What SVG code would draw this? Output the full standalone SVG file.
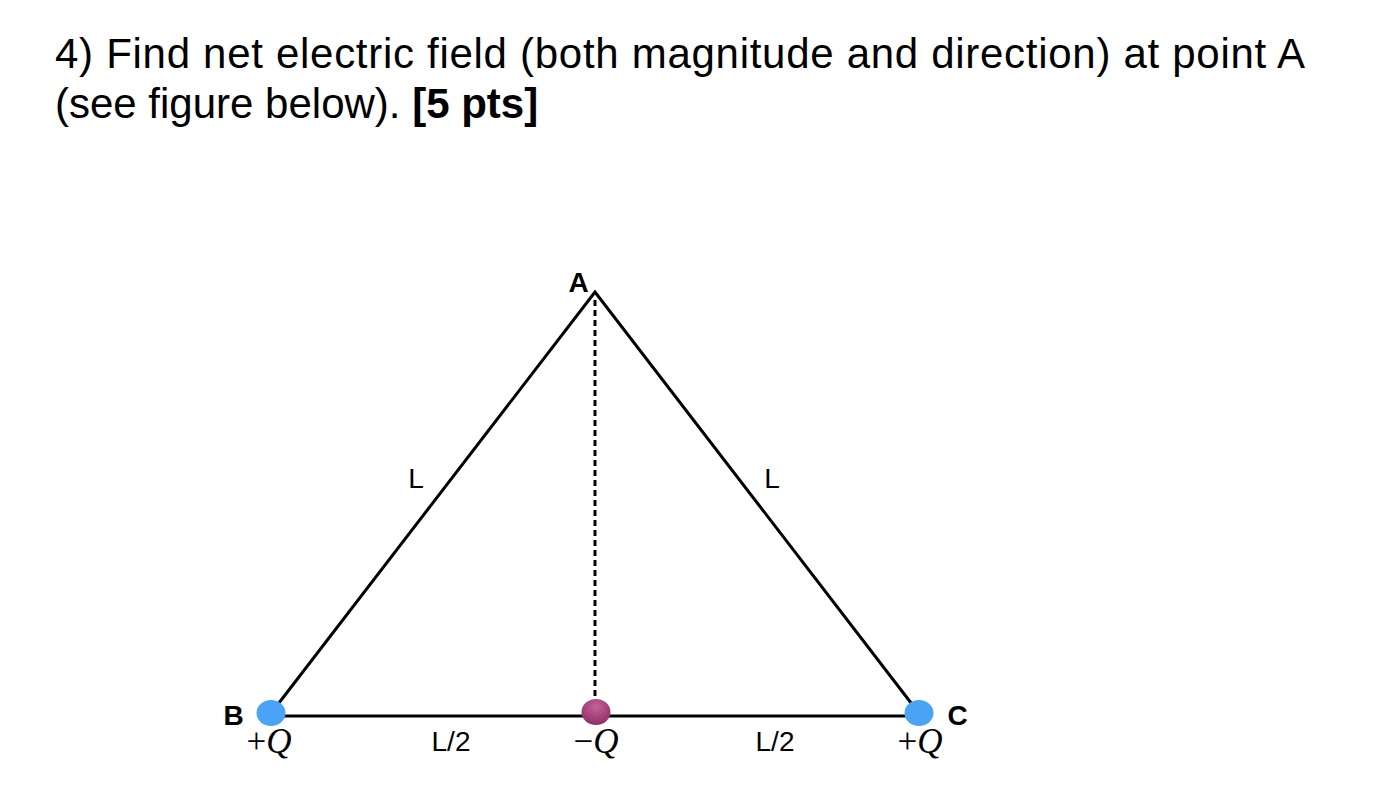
<svg xmlns="http://www.w3.org/2000/svg" width="1382" height="790" viewBox="0 0 1382 790">
<style>
.title{font-family:"Liberation Sans",Arial,sans-serif;font-size:42px;fill:#000}
.lbl{font-family:"Liberation Sans",Arial,sans-serif;font-size:28px;fill:#000}
.bold{font-weight:bold}
.q{font-family:"Liberation Serif","Times New Roman",serif;font-size:35px;fill:#000}
.edge{stroke:#000;stroke-width:3;fill:none}
</style>
<defs>
<radialGradient id="pink" cx="0.5" cy="0.3" r="0.7">
<stop offset="0" stop-color="#c4609a"/>
<stop offset="1" stop-color="#8e2f63"/>
</radialGradient>
</defs>
<rect width="1382" height="790" fill="#fff"/>
<text class="title" x="55" y="68" textLength="1250" lengthAdjust="spacing">4) Find net electric field (both magnitude and direction) at point A</text>
<text class="title" x="55" y="118">(see figure below). <tspan class="bold">[5 pts]</tspan></text>
<g id="connectors">
<polyline class="edge" points="272,712 595,292 918,712"/>
<line class="edge" x1="272" y1="716" x2="918" y2="716"/>
<line x1="595" y1="300" x2="595" y2="706" stroke="#000" stroke-width="3" stroke-dasharray="6,4"/>
</g>
<g id="A"><text class="lbl bold" x="578.5" y="292" text-anchor="middle" font-size="27">A</text></g>
<g id="B">
<ellipse cx="271" cy="713" rx="14.5" ry="13" fill="#4aa3f5"/>
<text class="lbl bold" x="233.5" y="725" text-anchor="middle" font-size="25">B</text>
<text class="q" x="269" y="753" text-anchor="middle">+<tspan font-style="italic">Q</tspan></text>
</g>
<g id="M">
<ellipse cx="596" cy="712" rx="14.5" ry="13" fill="url(#pink)"/>
<text class="q" x="596" y="753" text-anchor="middle">−<tspan font-style="italic">Q</tspan></text>
</g>
<g id="C">
<ellipse cx="919" cy="713" rx="14.5" ry="13" fill="#4aa3f5"/>
<text class="lbl bold" x="957.5" y="725" text-anchor="middle" font-size="25">C</text>
<text class="q" x="920" y="753" text-anchor="middle">+<tspan font-style="italic">Q</tspan></text>
</g>
<g id="labels">
<text class="lbl" x="416" y="488" text-anchor="middle">L</text>
<text class="lbl" x="772" y="488" text-anchor="middle">L</text>
<text class="lbl" x="451" y="751" text-anchor="middle">L/2</text>
<text class="lbl" x="775" y="751" text-anchor="middle">L/2</text>
</g>
</svg>
